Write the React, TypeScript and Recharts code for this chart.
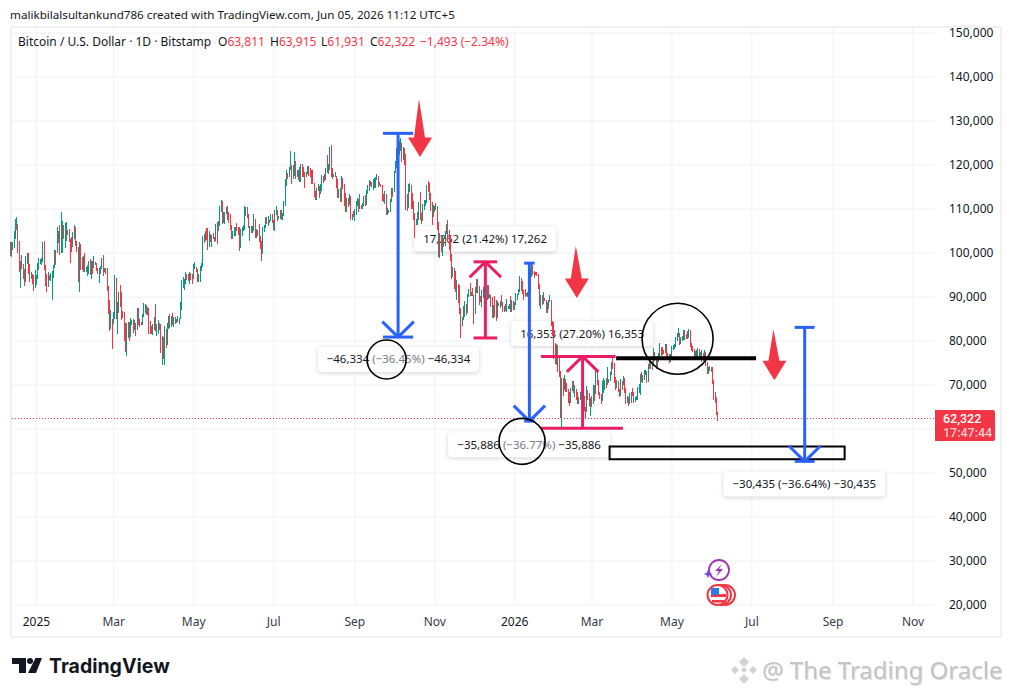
import {
  ComposedChart,
  Bar,
  XAxis,
  YAxis,
  CartesianGrid,
  ReferenceLine,
  ReferenceDot,
  ReferenceArea,
} from 'recharts'

const FONT = '"Noto Sans", sans-serif'
const UP = '#089981'
const DOWN = '#F23645'
const BLUE = '#2962FF'
const PINK = '#E91E63'

// Daily BTCUSD in thousands of dollars, first candle is 12 Dec 2024 (day -20, day 0 = 1 Jan 2025)
const FIRST_DAY = -20
const FIRST_OPEN = 101.0

const closes = [
  100.0, 101.4, 101.4, 104.4, 106.0, 106.1, 100.2, 97.5, 97.8, 97.2, 95.2, 94.9, 98.6, 99.4, 95.8, 94.2, 95.2, 93.7, 92.8, 93.5,
  94.5, 96.9, 98.1, 98.2, 98.3, 102.2, 96.9, 95.0, 92.5, 94.7, 94.5, 94.5, 94.5, 96.5, 100.5, 99.9, 104.1, 104.4, 101.2, 102.0, 106.1, 103.6, 103.9, 104.8, 104.7, 102.6, 102.0, 101.3, 103.7, 104.7, 102.4,
  100.6, 97.7, 101.4, 97.8, 96.6, 96.6, 96.5, 96.5, 96.5, 97.4, 95.8, 97.9, 96.6, 97.5, 97.6, 96.1, 95.7, 95.7, 96.6, 98.3, 96.1, 96.6, 96.2, 91.5, 88.7, 84.7, 84.7, 84.4,
  86.0, 94.3, 86.1, 87.2, 90.6, 89.9, 86.7, 86.2, 80.7, 78.5, 82.9, 83.7, 81.1, 83.9, 84.3, 82.6, 84.0, 82.7, 86.8, 84.2, 84.0, 83.8, 86.0, 87.4, 87.5, 86.9, 87.2, 84.3, 82.6, 82.4, 82.5,
  85.2, 82.5, 83.1, 83.8, 83.5, 78.4, 79.2, 76.3, 82.6, 79.6, 84.0, 85.3, 83.7, 84.6, 83.7, 84.0, 84.9, 84.5, 85.1, 85.2, 87.5, 93.4, 93.7, 93.9, 94.7, 94.6, 93.8, 94.9, 94.3, 94.2,
  96.5, 96.9, 95.9, 94.3, 94.7, 96.8, 97.0, 103.2, 102.9, 104.6, 104.1, 102.8, 104.1, 103.5, 103.7, 103.5, 103.1, 106.4, 105.6, 106.8, 109.6, 111.7, 107.3, 107.8, 108.9, 109.4, 108.9, 107.8, 105.6, 103.9, 104.6,
  105.6, 105.8, 105.4, 104.7, 101.6, 104.4, 105.7, 105.7, 110.3, 110.3, 108.6, 105.7, 106.1, 105.4, 105.6, 106.8, 104.6, 104.9, 104.6, 103.3, 102.1, 100.9, 105.4, 105.9, 107.3, 106.9, 107.1, 107.4, 108.4, 107.2,
  105.7, 108.9, 109.6, 107.9, 108.2, 109.2, 108.3, 108.9, 111.3, 115.9, 117.6, 117.4, 119.1, 120.0, 117.7, 118.7, 120.2, 117.9, 117.9, 117.3, 117.4, 120.0, 118.8, 118.4, 117.6, 117.9, 119.4, 118.0, 117.9, 117.8, 115.8,
  113.3, 112.5, 114.2, 115.2, 114.1, 115.0, 117.5, 116.6, 116.5, 119.3, 118.7, 120.2, 123.3, 118.3, 117.4, 117.5, 117.5, 116.3, 112.9, 114.3, 112.5, 116.9, 115.4, 113.5, 110.1, 111.8, 111.3, 112.6, 108.4, 108.8, 108.2,
  109.2, 111.2, 111.7, 110.7, 110.7, 110.2, 111.1, 112.1, 111.4, 113.9, 115.5, 116.0, 115.9, 115.4, 115.4, 116.8, 117.0, 117.2, 115.7, 115.7, 115.3, 112.7, 112.0, 113.3, 109.0, 109.7, 109.7, 112.1, 114.4, 114.1,
  118.6, 120.6, 122.3, 122.4, 123.5, 124.8, 121.5, 123.3, 121.7, 113.0, 110.8, 115.0, 115.3, 113.0, 110.8, 108.2, 106.4, 107.2, 108.6, 110.5, 108.5, 107.6, 110.0, 111.0, 111.6, 114.5, 114.1, 113.0, 110.0, 108.3, 109.5,
  110.1, 110.6, 106.6, 101.5, 103.9, 101.3, 103.3, 102.3, 104.7, 106.0, 103.0, 101.6, 99.7, 94.6, 95.6, 94.3, 92.2, 92.9, 91.5, 86.6, 84.6, 84.7, 86.8, 88.3, 87.3, 90.5, 91.3, 90.9, 90.9, 90.4,
  86.3, 91.3, 93.4, 92.0, 89.3, 89.2, 90.4, 90.6, 92.7, 92.0, 92.5, 90.2, 90.2, 88.2, 86.4, 87.8, 86.2, 85.5, 88.1, 88.3, 88.6, 88.5, 87.6, 87.6, 87.2, 87.3, 87.8, 87.8, 87.1, 88.4, 87.5,
  88.7, 89.9, 90.6, 91.5, 93.9, 93.7, 91.3, 91.0, 90.6, 90.4, 90.8, 91.2, 95.3, 96.9, 95.6, 95.5, 95.1, 95.0, 92.6, 88.3, 90.0, 89.5, 89.5, 89.2, 86.6, 88.3, 89.2, 89.2, 84.6, 84.2, 78.6,
  76.9, 78.7, 75.7, 73.0, 62.8, 70.5, 69.2, 70.3, 70.1, 68.8, 67.0, 66.2, 68.9, 69.8, 68.8, 68.9, 67.5, 66.4, 66.9, 68.0, 68.0, 67.6, 64.6, 64.0, 68.0, 67.5, 65.9, 66.9,
  65.9, 68.9, 68.3, 72.7, 70.9, 68.1, 67.3, 67.1, 68.6, 70.0, 70.5, 70.4, 70.9, 70.9, 72.6, 74.8, 74.0, 71.2, 69.9, 70.5, 68.8, 67.9, 70.9, 70.5, 71.3, 68.9, 66.3, 66.9, 66.1, 66.7, 68.2,
  68.1, 66.9, 66.9, 67.3, 69.0, 69.0, 71.9, 71.0, 71.9, 72.9, 73.0, 70.8, 74.5, 74.2, 75.0, 74.8, 77.0, 75.8, 74.2, 75.8, 76.2, 78.2, 78.1, 77.6, 77.4, 78.4, 76.9, 76.3, 75.6, 76.4,
  78.2, 78.5, 79.0, 80.5, 81.3, 81.6, 80.0, 80.4, 80.8, 81.9, 81.2, 80.9, 81.2, 82.2, 79.2, 78.2, 77.8, 76.7, 76.9, 77.6, 77.7, 76.8, 76.9, 77.2, 76.6, 77.1, 74.9, 73.0, 73.5, 73.9, 73.6,
  71.0, 67.0, 66.9, 63.811, 62.322,
]

const highs = [
  102.5, 102.6, 102.6, 105.1, 107.8, 108.3, 106.5, 102.8, 98.2, 99.5, 97.4, 96.4, 99.4, 99.9, 99.9, 97.4, 95.7, 95.3, 94.9, 96.1,
  94.9, 97.8, 98.9, 98.7, 98.8, 102.5, 102.7, 97.3, 95.3, 95.8, 95.0, 95.4, 95.9, 97.3, 100.7, 100.8, 105.9, 104.9, 106.3, 109.3, 107.2, 106.3, 106.8, 107.1, 105.3, 105.4, 103.2, 103.7, 104.7, 106.4, 106.0,
  102.7, 101.4, 102.5, 102.0, 99.0, 99.3, 100.1, 96.9, 97.2, 98.3, 98.6, 98.1, 98.1, 99.4, 97.9, 97.7, 96.7, 96.7, 97.0, 98.8, 99.5, 96.7, 96.7, 96.5, 92.4, 89.3, 87.0, 85.1,
  86.5, 95.0, 94.4, 88.9, 91.2, 92.8, 91.2, 86.9, 86.5, 84.0, 84.0, 84.4, 84.3, 85.3, 84.7, 85.0, 84.7, 84.0, 87.4, 87.4, 85.0, 84.4, 86.1, 88.7, 88.5, 88.2, 87.8, 87.5, 84.5, 83.5, 83.9,
  85.5, 88.5, 83.9, 84.7, 84.2, 83.8, 81.1, 80.8, 83.5, 82.7, 84.2, 85.8, 86.1, 85.8, 86.4, 85.5, 85.4, 85.1, 85.7, 85.3, 88.8, 93.8, 94.5, 94.0, 95.8, 95.3, 95.3, 95.6, 95.4, 95.2,
  97.4, 97.9, 96.9, 96.3, 95.2, 97.0, 97.7, 103.9, 104.3, 104.9, 105.7, 105.8, 104.9, 104.3, 104.2, 104.5, 103.7, 106.7, 107.1, 107.2, 110.7, 112.0, 111.9, 109.4, 109.3, 110.4, 110.7, 109.3, 108.9, 106.3, 104.9,
  105.9, 105.9, 106.8, 106.0, 105.9, 105.4, 105.9, 106.4, 110.6, 110.4, 110.4, 108.8, 106.2, 106.2, 106.1, 108.9, 107.8, 105.5, 105.2, 106.5, 103.9, 102.8, 106.0, 106.3, 108.2, 108.3, 108.5, 107.5, 108.8, 108.8,
  107.5, 109.8, 110.6, 109.7, 108.5, 109.7, 109.7, 109.2, 111.9, 116.8, 118.9, 118.2, 119.5, 123.2, 120.0, 120.0, 123.0, 120.9, 118.9, 118.9, 119.6, 120.2, 120.2, 119.5, 118.5, 118.4, 119.8, 119.8, 119.3, 118.8, 118.9,
  116.0, 114.0, 114.8, 115.7, 115.1, 115.7, 117.7, 117.6, 117.9, 119.4, 122.3, 120.3, 124.0, 124.5, 119.3, 118.0, 118.5, 117.6, 116.8, 114.6, 114.8, 117.4, 117.0, 115.6, 113.7, 112.4, 112.6, 113.5, 113.0, 108.9, 109.5,
  109.9, 111.8, 112.6, 112.2, 113.4, 110.9, 111.3, 112.9, 113.2, 114.3, 115.5, 116.7, 116.3, 116.1, 116.8, 117.0, 117.3, 118.0, 117.5, 116.1, 115.8, 115.4, 113.4, 114.0, 113.5, 110.3, 109.8, 112.3, 114.7, 114.8,
  118.6, 121.0, 123.9, 122.9, 125.5, 126.2, 125.1, 124.2, 123.8, 122.5, 113.4, 115.8, 115.9, 115.4, 113.6, 111.9, 109.2, 107.8, 109.4, 111.7, 113.9, 109.2, 111.2, 112.0, 112.0, 115.4, 116.4, 116.0, 113.6, 111.6, 111.0,
  110.6, 111.3, 110.8, 107.0, 104.5, 104.2, 104.0, 103.4, 105.0, 106.6, 107.4, 105.3, 104.0, 99.8, 96.8, 96.6, 96.0, 93.8, 93.0, 92.8, 87.4, 85.4, 88.0, 89.2, 88.4, 90.6, 91.9, 93.1, 91.2, 92.0,
  90.4, 92.3, 94.1, 94.0, 92.6, 90.2, 91.7, 92.2, 94.6, 94.4, 92.7, 92.7, 90.6, 90.4, 90.0, 88.2, 90.3, 89.4, 89.0, 88.6, 89.1, 90.5, 88.9, 87.9, 88.4, 89.5, 88.0, 88.4, 90.3, 89.3, 89.2,
  88.9, 91.0, 90.8, 91.9, 94.8, 94.4, 93.7, 91.5, 91.9, 90.9, 91.2, 92.4, 96.3, 97.9, 97.2, 95.9, 95.6, 95.6, 95.2, 92.9, 90.4, 90.4, 91.2, 89.8, 89.3, 88.9, 89.4, 90.5, 89.3, 84.6, 84.3,
  79.5, 79.3, 79.2, 76.9, 73.2, 71.5, 71.5, 72.2, 71.4, 70.5, 69.2, 68.3, 69.4, 70.9, 70.9, 70.0, 69.2, 68.3, 67.3, 68.3, 68.7, 68.2, 67.6, 64.9, 69.8, 68.8, 68.1, 67.0,
  67.4, 70.0, 69.9, 73.9, 73.3, 71.1, 68.4, 68.0, 71.0, 71.6, 71.2, 71.5, 74.2, 71.4, 73.0, 75.2, 76.4, 74.9, 71.9, 71.2, 71.0, 69.2, 71.4, 71.0, 72.0, 71.5, 69.3, 67.5, 67.3, 68.1, 68.5,
  69.3, 68.5, 67.3, 67.6, 69.5, 70.2, 72.5, 72.9, 72.3, 73.3, 73.4, 73.2, 74.8, 76.0, 75.4, 75.5, 78.3, 77.4, 76.0, 76.5, 77.2, 79.5, 78.6, 78.7, 78.0, 79.3, 79.3, 77.3, 77.0, 77.0,
  78.8, 79.0, 79.3, 80.9, 81.8, 82.9, 81.9, 80.8, 81.2, 82.6, 82.5, 81.7, 82.3, 82.7, 82.4, 79.6, 78.9, 78.2, 77.7, 78.0, 78.3, 78.1, 77.5, 78.0, 77.3, 77.9, 77.5, 75.2, 74.0, 74.3, 74.2,
  74.0, 71.2, 68.5, 67.3, 63.915,
]

const lows = [
  99.3, 99.2, 100.6, 101.2, 103.3, 105.3, 99.9, 95.7, 92.1, 96.4, 94.2, 92.4, 93.4, 97.6, 95.2, 93.5, 94.0, 93.0, 91.4, 92.0,
  92.8, 94.2, 96.1, 97.5, 97.3, 97.9, 96.1, 92.5, 91.2, 92.2, 93.8, 93.7, 89.3, 94.3, 96.5, 97.3, 99.9, 102.3, 99.6, 100.1, 100.1, 103.3, 101.2, 102.8, 104.1, 102.5, 97.8, 100.3, 101.3, 103.3, 101.6,
  100.2, 93.4, 91.2, 96.2, 96.2, 95.7, 95.7, 95.7, 94.7, 95.3, 94.9, 94.1, 95.2, 96.7, 97.2, 96.0, 95.2, 93.3, 95.2, 96.4, 94.8, 95.7, 95.2, 91.3, 86.1, 82.3, 82.7, 78.2,
  83.9, 85.0, 85.1, 81.5, 86.3, 87.8, 84.7, 85.3, 80.0, 77.5, 76.6, 80.6, 79.9, 80.8, 83.7, 81.9, 82.4, 81.2, 82.6, 83.7, 83.2, 83.6, 83.7, 85.5, 86.4, 85.9, 85.9, 81.6, 81.6, 81.5, 81.3,
  82.4, 82.3, 81.2, 81.6, 82.4, 77.2, 74.5, 76.0, 74.6, 78.4, 79.0, 82.8, 83.0, 83.2, 83.6, 83.1, 83.9, 84.1, 84.4, 83.9, 85.1, 87.0, 92.0, 91.7, 92.9, 93.9, 93.6, 92.9, 93.9, 92.9,
  94.1, 96.3, 95.7, 93.4, 93.5, 93.4, 95.9, 96.9, 102.3, 102.8, 103.0, 100.8, 101.4, 102.6, 101.4, 103.1, 102.6, 102.7, 102.0, 105.0, 106.1, 109.3, 106.7, 106.9, 106.6, 108.9, 107.5, 106.8, 105.3, 103.1, 103.2,
  103.9, 103.8, 105.1, 104.2, 100.4, 101.2, 103.8, 104.9, 105.3, 108.4, 108.0, 105.6, 102.7, 104.5, 104.5, 104.9, 103.4, 103.5, 103.9, 102.4, 100.9, 98.2, 99.7, 104.7, 105.6, 106.5, 106.2, 106.8, 107.2, 106.8,
  105.3, 105.1, 108.6, 107.3, 107.8, 107.8, 107.5, 107.5, 108.4, 110.6, 115.3, 116.9, 117.3, 118.9, 115.7, 116.9, 117.4, 116.9, 117.3, 116.5, 116.2, 116.2, 117.3, 117.2, 114.7, 117.2, 117.9, 117.5, 117.2, 115.8, 115.7,
  112.7, 112.0, 112.1, 114.1, 112.6, 113.4, 114.2, 115.9, 116.3, 116.5, 118.1, 118.0, 118.9, 117.2, 116.9, 117.2, 117.3, 114.7, 112.4, 112.4, 111.6, 111.7, 114.5, 110.8, 109.3, 109.3, 110.4, 110.9, 107.4, 107.5, 108.1,
  107.3, 108.6, 110.6, 109.3, 110.0, 109.9, 110.0, 110.8, 110.8, 110.9, 113.4, 114.2, 115.2, 115.0, 114.4, 114.8, 114.7, 116.7, 115.1, 115.5, 115.1, 111.9, 111.5, 111.1, 108.7, 108.6, 109.0, 109.3, 111.6, 112.7,
  113.9, 118.2, 119.3, 121.6, 122.2, 123.2, 120.6, 121.1, 119.9, 109.7, 109.6, 110.2, 113.9, 110.0, 110.0, 107.5, 103.5, 106.4, 106.3, 107.5, 107.4, 106.7, 107.3, 109.7, 110.7, 111.3, 113.8, 112.0, 109.5, 106.3, 108.5,
  109.4, 109.8, 105.3, 99.0, 98.9, 100.3, 99.3, 101.3, 101.5, 104.3, 102.5, 100.6, 98.1, 94.0, 94.6, 91.9, 91.2, 89.3, 88.6, 86.1, 80.6, 83.5, 84.7, 85.4, 85.9, 86.3, 90.1, 90.3, 90.3, 90.3,
  83.9, 86.2, 91.0, 90.9, 88.1, 88.9, 87.7, 89.7, 89.6, 91.6, 89.3, 89.5, 89.8, 87.7, 85.2, 85.3, 85.4, 84.5, 85.2, 87.9, 87.6, 87.9, 86.6, 86.5, 86.9, 86.6, 87.2, 87.3, 86.7, 86.7, 87.0,
  87.0, 88.3, 89.3, 90.5, 91.2, 91.3, 90.7, 89.4, 89.9, 90.2, 90.1, 90.1, 91.1, 94.6, 95.1, 94.3, 94.9, 94.7, 91.9, 87.9, 87.2, 88.3, 88.5, 89.0, 86.3, 86.3, 87.2, 88.9, 83.3, 81.2, 76.0,
  74.8, 74.6, 72.9, 71.9, 62.4, 60.1, 67.4, 68.8, 68.4, 68.3, 65.8, 65.2, 65.9, 68.7, 68.1, 67.3, 66.6, 65.7, 65.7, 66.5, 67.6, 67.2, 64.1, 62.6, 63.9, 66.5, 65.2, 62.9,
  65.0, 65.6, 66.3, 67.9, 70.1, 67.7, 66.9, 65.7, 66.3, 68.2, 68.9, 69.3, 70.1, 70.4, 70.8, 72.2, 73.6, 70.5, 68.9, 69.4, 68.4, 67.3, 67.5, 68.9, 70.1, 68.2, 65.6, 65.9, 65.2, 65.7, 65.9,
  67.6, 65.8, 66.2, 66.7, 66.7, 68.2, 67.8, 70.6, 70.5, 71.2, 72.3, 70.5, 70.6, 73.7, 73.6, 73.3, 74.4, 75.5, 73.7, 74.0, 75.2, 76.1, 76.7, 76.9, 77.0, 77.2, 76.4, 75.7, 74.9, 75.2,
  76.2, 77.9, 78.1, 78.6, 80.0, 81.0, 79.2, 79.4, 80.1, 80.3, 80.3, 80.4, 80.4, 80.7, 78.6, 77.8, 77.4, 75.9, 75.9, 76.4, 75.9, 76.2, 76.0, 75.2, 75.5, 76.0, 74.4, 72.5, 72.4, 73.1, 72.9,
  70.3, 66.5, 65.9, 63.2, 61.931,
]

const priceTicks = [20, 30, 40, 50, 60, 70, 80, 90, 100, 110, 120, 130, 140, 150]
const monthTicks = [0, 59, 120, 181, 243, 304, 365, 424, 485, 546, 608, 669]
const monthLabels = ['2025', 'Mar', 'May', 'Jul', 'Sep', 'Nov', '2026', 'Mar', 'May', 'Jul', 'Sep', 'Nov']
const LAST_PRICE = 62.322

// Price range measures drawn on the chart (day, start price, end price)
const measures = [
  { day: 276, from: 127.2, to: 80.9, capLeft: 11.5, capFrom: 11.5, capTo: 11.5, color: BLUE },
  { day: 342.6, from: 80.7, to: 98.0, capLeft: 9, capFrom: 9, capTo: 9, color: PINK },
  { day: 376.2, from: 97.7, to: 61.8, capLeft: 4, capFrom: 4, capTo: 4, color: BLUE },
  { day: 416.8, from: 60.2, to: 76.5, capLeft: 31.8, capFrom: 30.8, capTo: 25.2, color: PINK },
  { day: 586.3, from: 83.1, to: 52.65, capLeft: 7.6, capFrom: 7.6, capTo: 7.6, color: BLUE },
]

const measureLabels = [
  { day: 276.3, price: 75.8, width: 161, value: '\u221246,334', pct: '(\u221236.45%)', muted: true },
  { day: 342.4, price: 103.2, width: 142, value: '17,262', pct: '(21.42%)', muted: false },
  { day: 416.4, price: 81.7, width: 142, value: '16,353', pct: '(27.20%)', muted: false },
  { day: 376, price: 56.4, width: 162, value: '\u221235,886', pct: '(\u221236.77%)', muted: true },
  { day: 586, price: 47.5, width: 162, value: '\u221230,435', pct: '(\u221236.64%)', muted: false },
]

const circles = [
  { day: 267.2, price: 75.8, r: 19.5 },
  { day: 370.6, price: 57.2, r: 23 },
  { day: 489.3, price: 80.5, r: 35.5 },
]

const downArrows = [
  { day: 292.7, price: 121.8, length: 58 },
  { day: 412.4, price: 89.8, length: 52 },
  { day: 563.2, price: 71.1, length: 51 },
]

const data = closes.map((close, i) => ({
  day: FIRST_DAY + i,
  open: i === 0 ? FIRST_OPEN : closes[i - 1],
  high: highs[i],
  low: lows[i],
  close,
  range: [lows[i], highs[i]],
}))

function Candle(props: any) {
  const { x, y, width, height, payload } = props
  const { open, close, high, low } = payload
  const cx = Math.floor(x + width / 2) + 0.5
  const color = close >= open ? UP : DOWN
  const perUnit = height / Math.max(high - low, 0.001)
  const bodyTop = y + (high - Math.max(open, close)) * perUnit
  const bodyH = Math.max(Math.abs(open - close) * perUnit, 1)
  return (
    <g shapeRendering="crispEdges">
      <line x1={cx} x2={cx} y1={y} y2={y + height} stroke={color} strokeWidth={1} />
      <rect x={cx - 0.5} y={bodyTop} width={1.2} height={bodyH} fill={color} />
    </g>
  )
}

function MeasureLabel(props: any) {
  const { cx, cy, width, value, pct, muted } = props
  return (
    <g>
      <rect
        x={cx - width / 2}
        y={cy - 12.5}
        width={width}
        height={25}
        rx={4}
        fill="#fff"
        style={{ filter: 'drop-shadow(0 1px 2px rgba(0,0,0,0.18))' }}
      />
      <text x={cx} y={cy + 4} textAnchor="middle" fontFamily={FONT} fontSize={11.5} fill="#131722">
        {value} <tspan fill={muted ? '#787b86' : '#131722'}>{pct}</tspan> {value}
      </text>
    </g>
  )
}

function DownArrow(props: any) {
  const { cx, cy, length } = props
  const wing = cy - 19.5
  const points = [
    [cx - 1, cy - length],
    [cx + 5, wing],
    [cx + 12, wing],
    [cx, cy],
    [cx - 12, wing],
    [cx - 6, wing],
  ]
  return <polygon points={points.map((p) => p.join(',')).join(' ')} fill={DOWN} />
}

function MonthTick(props: any) {
  const { x, y, index } = props
  const isYear = monthLabels[index].startsWith('20')
  return (
    <text x={x} y={y + 13} textAnchor="middle" fontFamily={FONT} fontSize={12} fill={isYear ? '#131722' : '#363a45'}>
      {monthLabels[index]}
    </text>
  )
}

function segment(x1: number, y1: number, x2: number, y2: number) {
  return [{ x: x1, y: y1 }, { x: x2, y: y2 }] as any
}

function measureLines() {
  const lines: any[] = []
  measures.forEach((m) => {
    const sign = m.to > m.from ? -1 : 1
    const parts = [
      segment(m.day, m.from, m.day, m.to),
      segment(m.day - m.capLeft, m.from, m.day + m.capFrom, m.from),
      segment(m.day - m.capLeft, m.to, m.day + m.capTo, m.to),
      segment(m.day - 12, m.to + sign * 3.5, m.day, m.to),
      segment(m.day + 12, m.to + sign * 3.5, m.day, m.to),
    ]
    parts.forEach((seg, j) => {
      lines.push(
        <ReferenceLine key={`${m.day}-${j}`} segment={seg} stroke={m.color} strokeWidth={3} ifOverflow="visible" />
      )
    })
  })
  return lines
}

function FlagIcons() {
  return (
    <svg width={1010} height={696} style={{ position: 'absolute', left: 0, top: 0, pointerEvents: 'none' }}>
      <circle cx={719} cy={570} r={10} fill="#fff" stroke="#9C36B5" strokeWidth={1.8} />
      <polygon points="722,564 715,571 719,571 716,577 723,569 719,569" fill="#9C36B5" />
      <polygon points="708,570 709.5,573 712.5,574 709.5,575 708,578 706.5,575 703.5,574 706.5,573" fill="#7048E8" />
      <circle cx={725} cy={595} r={10} fill="#fff" stroke={DOWN} strokeWidth={2} />
      <circle cx={721} cy={595} r={10} fill="#fff" stroke={DOWN} strokeWidth={2} />
      <circle cx={717.5} cy={595} r={10} fill="#fff" stroke={DOWN} strokeWidth={2} />
      <rect x={711} y={594} width={15} height={3} fill={DOWN} />
      <rect x={712} y={600} width={12} height={2.5} fill={DOWN} />
      <rect x={711} y={588} width={8} height={7} fill="#2E7BE6" />
    </svg>
  )
}

function Logo() {
  return (
    <svg width={1010} height={696} style={{ position: 'absolute', left: 0, top: 0, pointerEvents: 'none' }}>
      <path d="M12 658 H26 V673 H19 V664 H12 Z" fill="#131722" />
      <circle cx={30} cy={661} r={3} fill="#131722" />
      <polygon points="35.5,658 42,658 36,673 28,673" fill="#131722" />
      <text x={49} y={673} fontFamily="Inter, sans-serif" fontWeight={700} fontSize={19.5} fill="#131722">
        TradingView
      </text>
      <g fill="#d2d2d2">
        <polygon points="744,657 749,662 744,667 739,662" />
        <polygon points="735,666 739,670 735,674 731,670" />
        <polygon points="753,666 757,670 753,674 749,670" />
        <polygon points="744,674 749,679 744,684 739,679" />
        <polygon points="744,667 747,670 744,673 741,670" />
      </g>
      <text
        x={762}
        y={679}
        fontFamily={FONT}
        fontSize={24}
        fill="#c4c4c4"
        style={{ filter: 'drop-shadow(1px 1px 0 rgba(0,0,0,0.12))' }}
      >
        @ The Trading Oracle
      </text>
    </svg>
  )
}

const headerText = {
  position: 'absolute',
  top: 34,
  fontFamily: FONT,
  fontSize: 12,
  lineHeight: '16px',
  whiteSpace: 'nowrap',
  color: '#131722',
} as const

function Header() {
  const red = { color: DOWN }
  return (
    <>
      <div style={{ ...headerText, top: 7, left: 10, fontSize: 11.65 }}>
        malikbilalsultankund786 created with TradingView.com, Jun 05, 2026 11:12 UTC+5
      </div>
      <div style={{ ...headerText, left: 18 }}>Bitcoin / U.S. Dollar · 1D · Bitstamp</div>
      <div style={{ ...headerText, left: 218 }}>O<span style={red}>63,811</span></div>
      <div style={{ ...headerText, left: 270 }}>H<span style={red}>63,915</span></div>
      <div style={{ ...headerText, left: 321 }}>L<span style={red}>61,931</span></div>
      <div style={{ ...headerText, left: 370 }}>C<span style={red}>62,322</span></div>
      <div style={{ ...headerText, left: 420, ...red }}>{'\u22121,493 (\u22122.34%)'}</div>
    </>
  )
}

export default function App() {
  return (
    <div style={{ position: 'absolute', left: 0, top: 0, width: 1010, height: 696, background: '#fff', overflow: 'hidden' }}>
      <div
        style={{
          position: 'absolute',
          left: 10,
          top: 26,
          width: 988,
          height: 608,
          border: '2px solid #f0f0f0',
        }}
      />
      <div style={{ position: 'absolute', left: 0, top: 0 }}>
        <ComposedChart width={1010} height={696} data={data} margin={{ top: 26, right: 0, bottom: 0, left: 10 }}>
          <CartesianGrid stroke="#f0f1f3" verticalValues={monthTicks} horizontalValues={priceTicks} />
          <XAxis
            dataKey="day"
            type="number"
            scale="linear"
            domain={[-20.2, 685]}
            ticks={monthTicks}
            allowDataOverflow
            height={91}
            axisLine={false}
            tickLine={false}
            tick={<MonthTick />}
          />
          <YAxis
            orientation="right"
            type="number"
            domain={[20, 151.6]}
            ticks={priceTicks}
            allowDataOverflow
            width={76}
            axisLine={false}
            tickLine={false}
            tickMargin={9}
            tick={{ fontFamily: FONT, fontSize: 12, fill: '#131722' }}
            tickFormatter={(v: number) => (v === 60 ? '' : (v * 1000).toLocaleString('en-US'))}
          />
          {measureLabels.map((l) => (
            <ReferenceDot
              key={l.value}
              x={l.day}
              y={l.price}
              ifOverflow="visible"
              {...({ zIndex: 50 } as any)}
              shape={(p: any) => <MeasureLabel {...p} width={l.width} value={l.value} pct={l.pct} muted={l.muted} />}
            />
          ))}
          <Bar dataKey="range" barSize={1} shape={<Candle />} isAnimationActive={false} />
          <ReferenceLine y={LAST_PRICE} stroke={DOWN} strokeWidth={1} strokeDasharray="1 2" shapeRendering="crispEdges" />
          <ReferenceLine segment={segment(442.4, 76.1, 549.2, 76.1)} stroke="#000" strokeWidth={4} ifOverflow="visible" />
          <ReferenceArea x1={437.4} x2={616.8} y1={53.1} y2={56} fill="none" stroke="#000" strokeWidth={2} ifOverflow="visible" />
          {measureLines()}
          {circles.map((c) => (
            <ReferenceDot key={c.day} x={c.day} y={c.price} r={c.r} fill="none" stroke="#000" strokeWidth={1.6} ifOverflow="visible" />
          ))}
          {downArrows.map((a) => (
            <ReferenceDot
              key={a.day}
              x={a.day}
              y={a.price}
              ifOverflow="visible"
              shape={(p: any) => <DownArrow {...p} length={a.length} />}
            />
          ))}
        </ComposedChart>
      </div>
      <Header />
      <FlagIcons />
      <div
        style={{
          position: 'absolute',
          left: 935,
          top: 410,
          width: 60,
          height: 31,
          background: DOWN,
          borderRadius: '0 2px 2px 0',
          fontFamily: 'Roboto, sans-serif',
          fontSize: 12.5,
          lineHeight: '14px',
          color: '#fff',
          paddingLeft: 8,
          boxSizing: 'border-box',
          paddingTop: 2,
          fontWeight: 500,
        }}
      >
        62,322
        <br />
        <span style={{ opacity: 0.75 }}>17:47:44</span>
      </div>
      <Logo />
    </div>
  )
}
